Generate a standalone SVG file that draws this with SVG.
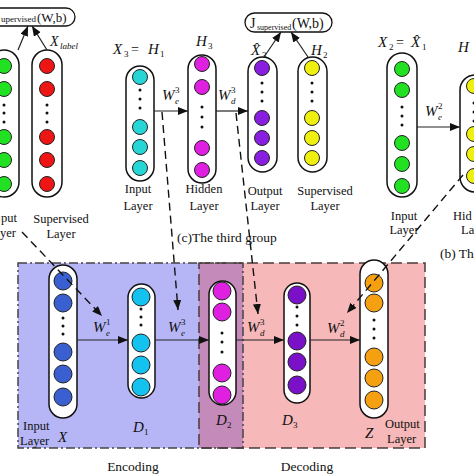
<svg xmlns="http://www.w3.org/2000/svg" width="474" height="474" viewBox="0 0 474 474">
<defs>
<marker id="ah" markerUnits="userSpaceOnUse" markerWidth="11" markerHeight="9" refX="10" refY="4" orient="auto"><path d="M0,0 L10,4 L0,8 z" fill="#111"/></marker>
<style>
.pill{fill:#fff;stroke:#111;stroke-width:1.5}
.c{stroke:#222;stroke-width:1}
.dot{fill:#111}
.ln{stroke:#222;stroke-width:1.2;fill:none}
.dl{stroke:#111;stroke-width:1.4;fill:none;stroke-dasharray:8,5}
.t{font-family:"Liberation Serif","Times New Roman",serif;font-size:12.5px;fill:#111}
.cap{font-family:"Liberation Serif","Times New Roman",serif;font-size:13.5px;fill:#111}
.m{font-family:"Liberation Serif","Times New Roman",serif;font-style:italic;font-size:15px;fill:#111}
.s{font-family:"Liberation Serif","Times New Roman",serif;font-style:italic;font-size:9px;fill:#111}
.n{font-family:"Liberation Serif","Times New Roman",serif;font-size:9px;fill:#111}
.r{font-family:"Liberation Serif","Times New Roman",serif;font-size:14px;fill:#111}
.g{fill:#22e022}.rd{fill:#ee1515}.cy{fill:#26d6d6}.mg{fill:#e020e0}.pu{fill:#8a1ee0}.ye{fill:#f0f010}
.bl{fill:#3a5fd0}.cb{fill:#14c2f0}.pu2{fill:#7a10c8}.or{fill:#f5a010}
</style>
</defs>

<!-- bottom regions -->
<g id="regions">
<rect x="18" y="263" width="181" height="185" fill="#b6b6f6"/>
<rect x="199" y="263" width="44" height="185" fill="#c48bba"/>
<rect x="243" y="263" width="182" height="185" fill="#f6b8b8"/>
<rect x="18" y="263" width="225" height="185" fill="none" stroke="#444" stroke-width="1.5" stroke-dasharray="9,3,2,3"/>
<rect x="199" y="263" width="226" height="185" fill="none" stroke="#4a3a3a" stroke-width="1.5" stroke-dasharray="11,5"/>
</g>

<!-- top-left group -->
<g id="jbox-left">
<rect x="-40" y="8" width="115" height="18" rx="9" fill="#fff" stroke="#111" stroke-width="1.3"/>
<text class="n" x="1" y="22" style="font-size:9px">upervised</text>
<text class="r" x="37" y="22" style="font-size:13px">(W,b)</text>
</g>
<g id="tl-input">
<rect class="pill" x="-11" y="50" width="30" height="147" rx="15"/>
<circle class="c g" cx="4" cy="66" r="7.5"/><circle class="c g" cx="4" cy="89" r="7.5"/>
<circle class="dot" cx="4" cy="105" r="1.5"/><circle class="dot" cx="4" cy="113" r="1.5"/><circle class="dot" cx="4" cy="122" r="1.5"/>
<circle class="c g" cx="4" cy="137" r="7.5"/><circle class="c g" cx="4" cy="160" r="7.5"/><circle class="c g" cx="4" cy="184" r="7.5"/>
<text class="t" x="1" y="222">put</text>
<text class="t" x="0" y="237">yer</text>
</g>
<g id="tl-supervised">
<rect class="pill" x="32" y="50" width="30" height="147" rx="15"/>
<circle class="c rd" cx="47" cy="66" r="7.5"/><circle class="c rd" cx="47" cy="89" r="7.5"/>
<circle class="dot" cx="47" cy="105" r="1.5"/><circle class="dot" cx="47" cy="113" r="1.5"/><circle class="dot" cx="47" cy="122" r="1.5"/>
<circle class="c rd" cx="47" cy="137" r="7.5"/><circle class="c rd" cx="47" cy="160" r="7.5"/><circle class="c rd" cx="47" cy="184" r="7.5"/>
<text class="m" x="50" y="46" style="font-size:14px">X</text><text class="s" x="60" y="49">label</text>
<text class="t" x="61" y="223" text-anchor="middle">Supervised</text>
<text class="t" x="61" y="238" text-anchor="middle">Layer</text>
</g>

<!-- middle group -->
<g id="jbox-mid">
<rect x="245" y="13" width="87" height="19" rx="9.5" fill="#fff" stroke="#111" stroke-width="1.3"/>
<text class="r" x="250" y="28">J</text>
<text class="n" x="257" y="30" style="font-size:8px">supervised</text>
<text class="r" x="292" y="28">(W,b)</text>
</g>
<g id="mid-input">
<rect class="pill" x="126" y="66" width="28" height="115" rx="14"/>
<circle class="c cy" cx="140" cy="77" r="7.5"/>
<circle class="dot" cx="140" cy="90" r="1.5"/><circle class="dot" cx="140" cy="99" r="1.5"/><circle class="dot" cx="140" cy="108" r="1.5"/>
<circle class="c cy" cx="140" cy="127" r="7.5"/><circle class="c cy" cx="140" cy="147" r="7.5"/><circle class="c cy" cx="140" cy="168" r="7.5"/>
<text class="m" x="113" y="54">X</text><text class="n" x="124" y="57">3</text>
<text class="r" x="131" y="54">=</text>
<text class="m" x="148" y="54">H</text><text class="n" x="160" y="57">1</text>
<text class="t" x="138" y="193" text-anchor="middle">Input</text>
<text class="t" x="138" y="210" text-anchor="middle">Layer</text>
</g>
<g id="mid-hidden">
<rect class="pill" x="188" y="55" width="28" height="128" rx="14"/>
<circle class="c mg" cx="202" cy="64" r="7.5"/><circle class="c mg" cx="202" cy="87" r="7.5"/>
<circle class="dot" cx="202" cy="107" r="1.5"/><circle class="dot" cx="202" cy="117" r="1.5"/><circle class="dot" cx="202" cy="127" r="1.5"/>
<circle class="c mg" cx="202" cy="148" r="7.5"/><circle class="c mg" cx="202" cy="170" r="7.5"/>
<text class="m" x="196" y="46">H</text><text class="n" x="208" y="49">3</text>
<text class="t" x="204" y="193" text-anchor="middle">Hidden</text>
<text class="t" x="204" y="210" text-anchor="middle">Layer</text>
</g>
<g id="mid-output">
<rect class="pill" x="248" y="57" width="29" height="115" rx="14.5"/>
<circle class="c pu" cx="262" cy="68" r="7.5"/>
<circle class="dot" cx="262" cy="83" r="1.5"/><circle class="dot" cx="262" cy="92" r="1.5"/><circle class="dot" cx="262" cy="101" r="1.5"/>
<circle class="c pu" cx="262" cy="118" r="7.5"/><circle class="c pu" cx="262" cy="138" r="7.5"/><circle class="c pu" cx="262" cy="158" r="7.5"/>
<text class="m" x="251" y="55">X&#x302;</text><text class="n" x="262" y="58">3</text>
<text class="t" x="265" y="195" text-anchor="middle">Output</text>
<text class="t" x="265" y="210" text-anchor="middle">Layer</text>
</g>
<g id="mid-supervised">
<rect class="pill" x="298" y="57" width="29" height="115" rx="14.5"/>
<circle class="c ye" cx="312" cy="68" r="7.5"/>
<circle class="dot" cx="312" cy="83" r="1.5"/><circle class="dot" cx="312" cy="92" r="1.5"/><circle class="dot" cx="312" cy="101" r="1.5"/>
<circle class="c ye" cx="312" cy="118" r="7.5"/><circle class="c ye" cx="312" cy="138" r="7.5"/><circle class="c ye" cx="312" cy="158" r="7.5"/>
<text class="m" x="311" y="55">H</text><text class="n" x="323" y="58">2</text>
<text class="t" x="325" y="195" text-anchor="middle">Supervised</text>
<text class="t" x="325" y="210" text-anchor="middle">Layer</text>
</g>
<text class="cap" x="177" y="242">(c)The third group</text>

<!-- right group -->
<g id="right-input">
<rect class="pill" x="387" y="53" width="30" height="144" rx="15"/>
<circle class="c g" cx="402" cy="69" r="7.5"/><circle class="c g" cx="402" cy="90" r="7.5"/>
<circle class="dot" cx="402" cy="107" r="1.5"/><circle class="dot" cx="402" cy="116" r="1.5"/><circle class="dot" cx="402" cy="125" r="1.5"/>
<circle class="c g" cx="402" cy="143" r="7.5"/><circle class="c g" cx="402" cy="164" r="7.5"/><circle class="c g" cx="402" cy="186" r="7.5"/>
<text class="m" x="378" y="47">X</text><text class="n" x="389" y="50">2</text>
<text class="r" x="396" y="47">=</text>
<text class="m" x="411" y="47">X&#x302;</text><text class="n" x="422" y="50">1</text>
<text class="t" x="404" y="220" text-anchor="middle">Input</text>
<text class="t" x="404" y="234" text-anchor="middle">Layer</text>
</g>
<g id="right-hidden">
<rect class="pill" x="460" y="75" width="30" height="117" rx="15"/>
<circle class="c ye" cx="474" cy="86" r="7.5"/>
<circle class="dot" cx="474" cy="103" r="1.5"/><circle class="dot" cx="474" cy="112" r="1.5"/><circle class="dot" cx="474" cy="121" r="1.5"/>
<circle class="c ye" cx="474" cy="134" r="7.5"/><circle class="c ye" cx="474" cy="154" r="7.5"/><circle class="c ye" cx="474" cy="176" r="7.5"/>
<text class="m" x="458" y="52">H</text>
<text class="t" x="453" y="220">Hid</text>
<text class="t" x="461" y="234">La</text>
</g>
<text class="cap" x="440" y="258">(b) Th</text>

<!-- bottom nodes -->
<g id="X">
<rect class="pill" x="49" y="265" width="28" height="153" rx="14"/>
<circle class="c bl" cx="63" cy="281" r="9"/><circle class="c bl" cx="63" cy="303" r="9"/>
<circle class="dot" cx="63" cy="318" r="1.5"/><circle class="dot" cx="63" cy="326" r="1.5"/><circle class="dot" cx="63" cy="334" r="1.5"/>
<circle class="c bl" cx="63" cy="352" r="9"/><circle class="c bl" cx="63" cy="374" r="9"/><circle class="c bl" cx="63" cy="397" r="9"/>
<text class="m" x="58" y="442">X</text>
<text class="t" x="23" y="430">Input</text>
<text class="t" x="20" y="445">Layer</text>
</g>
<g id="D1">
<rect class="pill" x="128" y="284" width="27" height="114" rx="13.5"/>
<circle class="c cb" cx="141" cy="297" r="9"/>
<circle class="dot" cx="141" cy="309" r="1.5"/><circle class="dot" cx="141" cy="317" r="1.5"/><circle class="dot" cx="141" cy="325" r="1.5"/>
<circle class="c cb" cx="141" cy="343" r="9"/><circle class="c cb" cx="141" cy="365" r="9"/><circle class="c cb" cx="141" cy="387" r="9"/>
<text class="m" x="133" y="432">D</text><text class="n" x="144" y="435">1</text>
</g>
<g id="D2">
<rect class="pill" x="209" y="281" width="27" height="124" rx="13.5"/>
<circle class="c mg" cx="222" cy="291" r="9"/><circle class="c mg" cx="222" cy="312" r="9"/>
<circle class="dot" cx="222" cy="333" r="1.5"/><circle class="dot" cx="222" cy="342" r="1.5"/><circle class="dot" cx="222" cy="352" r="1.5"/>
<circle class="c mg" cx="222" cy="373" r="9"/><circle class="c mg" cx="222" cy="395" r="9"/>
<text class="m" x="216" y="425">D</text><text class="n" x="227" y="428">2</text>
</g>
<g id="D3">
<rect class="pill" x="284" y="283" width="26" height="120" rx="13"/>
<circle class="c pu2" cx="297" cy="295" r="9"/>
<circle class="dot" cx="297" cy="307" r="1.5"/><circle class="dot" cx="297" cy="316" r="1.5"/><circle class="dot" cx="297" cy="325" r="1.5"/>
<circle class="c pu2" cx="297" cy="341" r="9"/><circle class="c pu2" cx="297" cy="362" r="9"/><circle class="c pu2" cx="297" cy="385" r="9"/>
<text class="m" x="282" y="425">D</text><text class="n" x="293" y="428">3</text>
</g>
<g id="Z">
<rect class="pill" x="360" y="260" width="28" height="158" rx="14"/>
<circle class="c or" cx="374" cy="283" r="9"/><circle class="c or" cx="374" cy="303" r="9"/>
<circle class="dot" cx="374" cy="320" r="1.5"/><circle class="dot" cx="374" cy="329" r="1.5"/><circle class="dot" cx="374" cy="338" r="1.5"/>
<circle class="c or" cx="374" cy="357" r="9"/><circle class="c or" cx="374" cy="378" r="9"/><circle class="c or" cx="374" cy="400" r="9"/>
<text class="m" x="365" y="438">Z</text>
<text class="t" x="385" y="428">Output</text>
<text class="t" x="387" y="443">Layer</text>
</g>
<text class="cap" x="133" y="471" text-anchor="middle">Encoding</text>
<text class="cap" x="307" y="471" text-anchor="middle">Decoding</text>

<!-- connectors -->
<g id="connectors">
<line class="ln" x1="18" y1="50" x2="28" y2="26" marker-end="url(#ah)"/>
<line class="ln" x1="47" y1="50" x2="32" y2="26" marker-end="url(#ah)"/>
<line class="ln" x1="264" y1="57" x2="281" y2="32" marker-end="url(#ah)"/>
<line class="ln" x1="308" y1="57" x2="291" y2="32" marker-end="url(#ah)"/>
<line class="ln" x1="154" y1="111" x2="188" y2="111" marker-end="url(#ah)"/>
<line class="ln" x1="216" y1="111" x2="248" y2="111" marker-end="url(#ah)"/>
<line class="ln" x1="417" y1="127" x2="460" y2="127" marker-end="url(#ah)"/>
<line class="ln" x1="77" y1="340" x2="128" y2="340" marker-end="url(#ah)"/>
<line class="ln" x1="155" y1="340" x2="209" y2="340" marker-end="url(#ah)"/>
<line class="ln" x1="236" y1="340" x2="284" y2="340" marker-end="url(#ah)"/>
<line class="ln" x1="310" y1="340" x2="360" y2="340" marker-end="url(#ah)"/>
<line class="dl" x1="22" y1="232" x2="102" y2="316" marker-end="url(#ah)"/>
<line class="dl" x1="162" y1="112" x2="178" y2="310" marker-end="url(#ah)"/>
<line class="dl" x1="236" y1="113" x2="258" y2="314" marker-end="url(#ah)"/>
<line class="dl" x1="463" y1="175" x2="347" y2="313" marker-end="url(#ah)"/>
<text class="m" x="162" y="100">W</text><text class="s" x="175" y="104">e</text><text class="n" x="175" y="93">3</text>
<text class="m" x="218" y="100">W</text><text class="s" x="231" y="104">d</text><text class="n" x="231" y="93">3</text>
<text class="m" x="425" y="116">W</text><text class="s" x="438" y="120">e</text><text class="n" x="438" y="109">2</text>
<text class="m" x="93" y="332">W</text><text class="s" x="106" y="336">e</text><text class="n" x="106" y="325">1</text>
<text class="m" x="168" y="332">W</text><text class="s" x="181" y="336">e</text><text class="n" x="181" y="325">3</text>
<text class="m" x="247" y="332">W</text><text class="s" x="260" y="336">d</text><text class="n" x="260" y="325">3</text>
<text class="m" x="327" y="333">W</text><text class="s" x="340" y="337">d</text><text class="n" x="340" y="326">2</text>
</g>
</svg>
